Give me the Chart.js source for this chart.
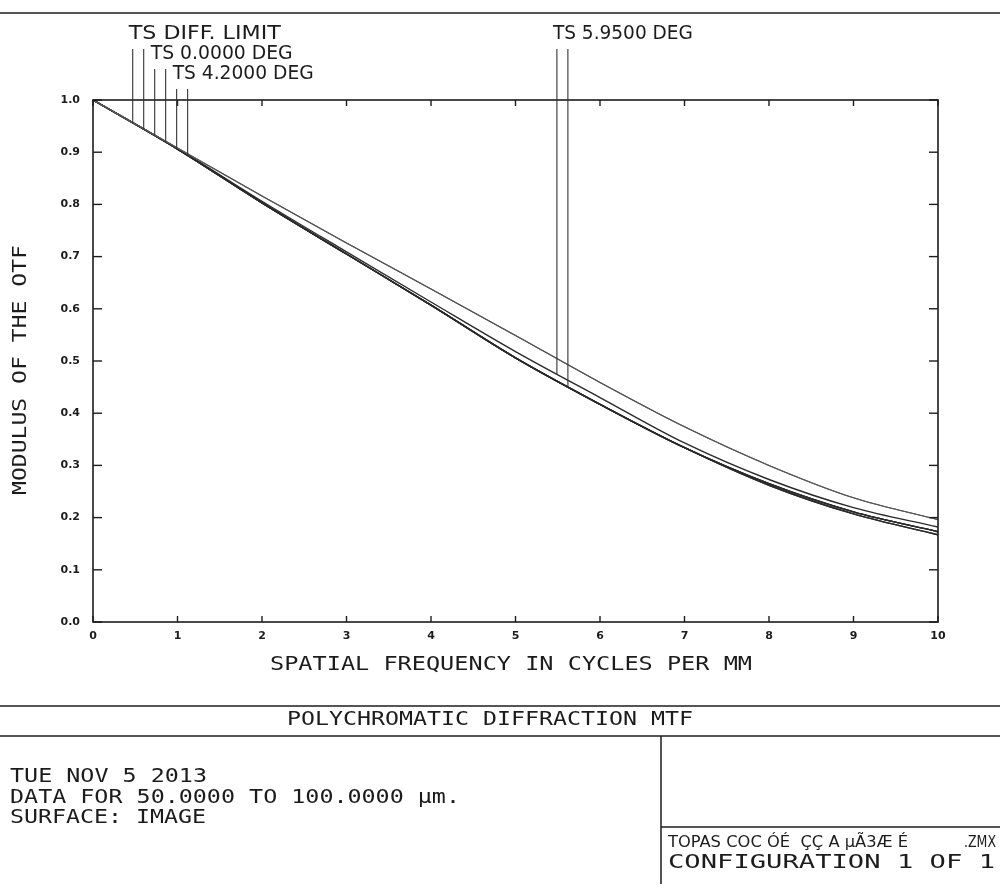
<!DOCTYPE html>
<html>
<head>
<meta charset="utf-8">
<script src="https://cdn.jsdelivr.net/npm/chart.js@4.4.1/dist/chart.umd.min.js"></script>
<style>
  html, body { margin: 0; padding: 0; background: #fff; }
  #wrap { width: 1000px; height: 891px; }
</style>
</head>
<body>
<div id="wrap"><canvas id="mtfChart" width="1000" height="891"></canvas></div>
<script>
// spatial frequency (cycles/mm) and MTF
const frequencies = [0, 1, 2, 3, 4, 5, 6, 7, 8, 9, 10];
const diffLimitT = [1.0, 0.908, 0.816, 0.726, 0.638, 0.549, 0.459, 0.374, 0.300, 0.238, 0.196];
const diffLimitS = [1.0, 0.908, 0.816, 0.726, 0.638, 0.549, 0.459, 0.374, 0.300, 0.238, 0.196];
const field0T = [1.0, 0.906, 0.803, 0.705, 0.607, 0.506, 0.417, 0.334, 0.265, 0.211, 0.173];
const field0S = [1.0, 0.906, 0.803, 0.705, 0.607, 0.506, 0.417, 0.334, 0.265, 0.211, 0.173];
const field42T = [1.0, 0.906, 0.803, 0.705, 0.607, 0.506, 0.417, 0.334, 0.265, 0.211, 0.173];
const field42S = [1.0, 0.906, 0.803, 0.705, 0.607, 0.506, 0.417, 0.334, 0.262, 0.207, 0.167];
const field595T = [1.0, 0.907, 0.806, 0.709, 0.613, 0.518, 0.430, 0.343, 0.273, 0.219, 0.182];
const field595S = [1.0, 0.906, 0.803, 0.705, 0.607, 0.506, 0.417, 0.334, 0.262, 0.207, 0.167];

const xTicks = [0, 1, 2, 3, 4, 5, 6, 7, 8, 9, 10];
const yTicks = [0, 0.1, 0.2, 0.3, 0.4, 0.5, 0.6, 0.7, 0.8, 0.9, 1.0];

// field labels and the frequencies where their T / S pointers touch the curves
const fieldLabels = ['TS DIFF. LIMIT', 'TS 0.0000 DEG', 'TS 4.2000 DEG', 'TS 5.9500 DEG'];
const pointerFreqs = [[0.47, 0.60], [0.73, 0.86], [0.99, 1.12], [5.49, 5.62]];

const chartTitle = 'POLYCHROMATIC DIFFRACTION MTF';
const xTitle = 'SPATIAL FREQUENCY IN CYCLES PER MM';
const yTitle = 'MODULUS OF THE OTF';
const infoLines = ['TUE NOV 5 2013', 'DATA FOR 50.0000 TO 100.0000 \u00b5m.', 'SURFACE: IMAGE'];
const fileName = 'TOPAS COC \u00d3\u00c9  \u00c7\u00c7 A \u00b5\u00c33\u00c6 \u00c9';
const fileExt = '.ZMX';
const configText = 'CONFIGURATION 1 OF 1';

const INK = '#1c1c1c';
const TITLE_FONT = '20px "DejaVu Sans Mono", monospace';
const LABEL_FONT = '20px "DejaVu Sans Condensed", "DejaVu Sans", sans-serif';
const SMALL_FONT = '15px "DejaVu Sans Condensed", "DejaVu Sans", sans-serif';

const series = [diffLimitT, diffLimitS, field0T, field0S, field42T, field42S, field595T, field595S];
const seriesNames = ['DIFF T', 'DIFF S', '0.0 T', '0.0 S', '4.2 T', '4.2 S', '5.95 T', '5.95 S'];

function toPoints(values) {
  return frequencies.map((f, i) => ({ x: f, y: values[i] }));
}

function valueAt(values, f) {
  for (let i = 1; i < frequencies.length; i++) {
    if (f <= frequencies[i]) {
      const t = (f - frequencies[i - 1]) / (frequencies[i] - frequencies[i - 1]);
      return values[i - 1] + t * (values[i] - values[i - 1]);
    }
  }
  return values[values.length - 1];
}

// draw text stretched to a given width (plotter glyphs are wide)
function drawFitText(ctx, text, x, y, width, font, align) {
  ctx.save();
  ctx.font = font;
  ctx.fillStyle = INK;
  ctx.textBaseline = 'middle';
  ctx.textAlign = 'left';
  const natural = ctx.measureText(text).width;
  const left = align === 'right' ? x - width : x;
  ctx.translate(left, y);
  ctx.scale(width / natural, 1);
  ctx.fillText(text, 0, 0);
  ctx.restore();
}

function hline(ctx, x1, x2, y) {
  ctx.beginPath();
  ctx.moveTo(x1, y);
  ctx.lineTo(x2, y);
  ctx.stroke();
}

function vline(ctx, x, y1, y2) {
  ctx.beginPath();
  ctx.moveTo(x, y1);
  ctx.lineTo(x, y2);
  ctx.stroke();
}

const plotterDecor = {
  id: 'plotterDecor',
  afterDraw(chart) {
    const { ctx, chartArea: area, scales: { x, y } } = chart;
    ctx.save();
    ctx.strokeStyle = INK;

    // plot frame
    ctx.lineWidth = 1.6;
    ctx.strokeRect(area.left, area.top, area.right - area.left, area.bottom - area.top);

    // inward tick marks on all four sides
    ctx.lineWidth = 1.4;
    yTicks.forEach((v) => {
      const py = y.getPixelForValue(v);
      hline(ctx, area.left, area.left + 9, py);
      hline(ctx, area.right - 9, area.right, py);
    });
    xTicks.forEach((v) => {
      const px = x.getPixelForValue(v);
      vline(ctx, px, area.top, area.top + 6);
      vline(ctx, px, area.bottom - 6, area.bottom);
    });

    // field label pointers
    const rows = [0, 1, 2, 0];
    const widths = [152, 142, 141, 140];
    ctx.lineWidth = 1.1;
    ctx.strokeStyle = '#333';
    fieldLabels.forEach((label, k) => {
      const textY = 34 + rows[k] * 20;
      const firstX = x.getPixelForValue(pointerFreqs[k][0]);
      drawFitText(ctx, label, firstX - 4, textY, widths[k], LABEL_FONT);
      pointerFreqs[k].forEach((f, j) => {
        const px = x.getPixelForValue(f);
        const py = y.getPixelForValue(valueAt(series[k * 2 + j], f));
        vline(ctx, px, textY + 15, py);
      });
    });

    // axis titles
    drawFitText(ctx, xTitle, 270, 665, 482, TITLE_FONT);
    ctx.save();
    ctx.translate(21, 495);
    ctx.rotate(-Math.PI / 2);
    drawFitText(ctx, yTitle, 0, 0, 250, TITLE_FONT);
    ctx.restore();

    // page frame and title block
    ctx.strokeStyle = INK;
    ctx.lineWidth = 1.5;
    hline(ctx, 0, 1000, 13);
    hline(ctx, 0, 1000, 706);
    hline(ctx, 0, 1000, 736);
    vline(ctx, 661, 736, 884);
    hline(ctx, 661, 1000, 827);

    drawFitText(ctx, chartTitle, 287, 720, 406, TITLE_FONT);
    drawFitText(ctx, infoLines[0], 10, 777, 197, TITLE_FONT);
    drawFitText(ctx, infoLines[1], 10, 798, 450, TITLE_FONT);
    drawFitText(ctx, infoLines[2], 10, 818, 196, TITLE_FONT);
    drawFitText(ctx, fileName, 668, 843, 240, SMALL_FONT);
    drawFitText(ctx, fileExt, 996, 843, 32, SMALL_FONT, 'right');
    drawFitText(ctx, configText, 668, 863, 327, TITLE_FONT);

    ctx.restore();
  },
};

const tickFont = { family: '"DejaVu Sans", sans-serif', size: 11, weight: 'bold' };

new Chart(document.getElementById('mtfChart'), {
  type: 'line',
  data: {
    datasets: series.map((values, i) => ({
      label: seriesNames[i],
      data: toPoints(values),
      borderColor: i < 2 ? '#555' : '#2a2a2a',
      borderWidth: i < 2 ? 1.1 : 1.4,
      pointRadius: 0,
      fill: false,
      cubicInterpolationMode: 'monotone',
    })),
  },
  options: {
    responsive: false,
    animation: false,
    events: [],
    layout: { padding: { top: 100, right: 62, bottom: 229, left: 0 } },
    plugins: {
      legend: { display: false },
      tooltip: { enabled: false },
    },
    scales: {
      x: {
        type: 'linear',
        min: 0,
        max: 10,
        afterFit: (scale) => { scale.height = 40; },
        afterBuildTicks: (scale) => { scale.ticks = xTicks.map((v) => ({ value: v })); },
        ticks: {
          color: INK,
          font: tickFont,
          padding: 8,
          maxRotation: 0,
          autoSkip: false,
          callback: (v) => String(v),
        },
        grid: { display: false, drawTicks: false },
        border: { display: false },
      },
      y: {
        type: 'linear',
        min: 0,
        max: 1,
        afterFit: (scale) => { scale.width = 93; },
        afterBuildTicks: (scale) => { scale.ticks = yTicks.map((v) => ({ value: v })); },
        ticks: {
          color: INK,
          font: tickFont,
          padding: 13,
          autoSkip: false,
          callback: (v) => v.toFixed(1),
        },
        grid: { display: false, drawTicks: false },
        border: { display: false },
      },
    },
  },
  plugins: [plotterDecor],
});
</script>
</body>
</html>
